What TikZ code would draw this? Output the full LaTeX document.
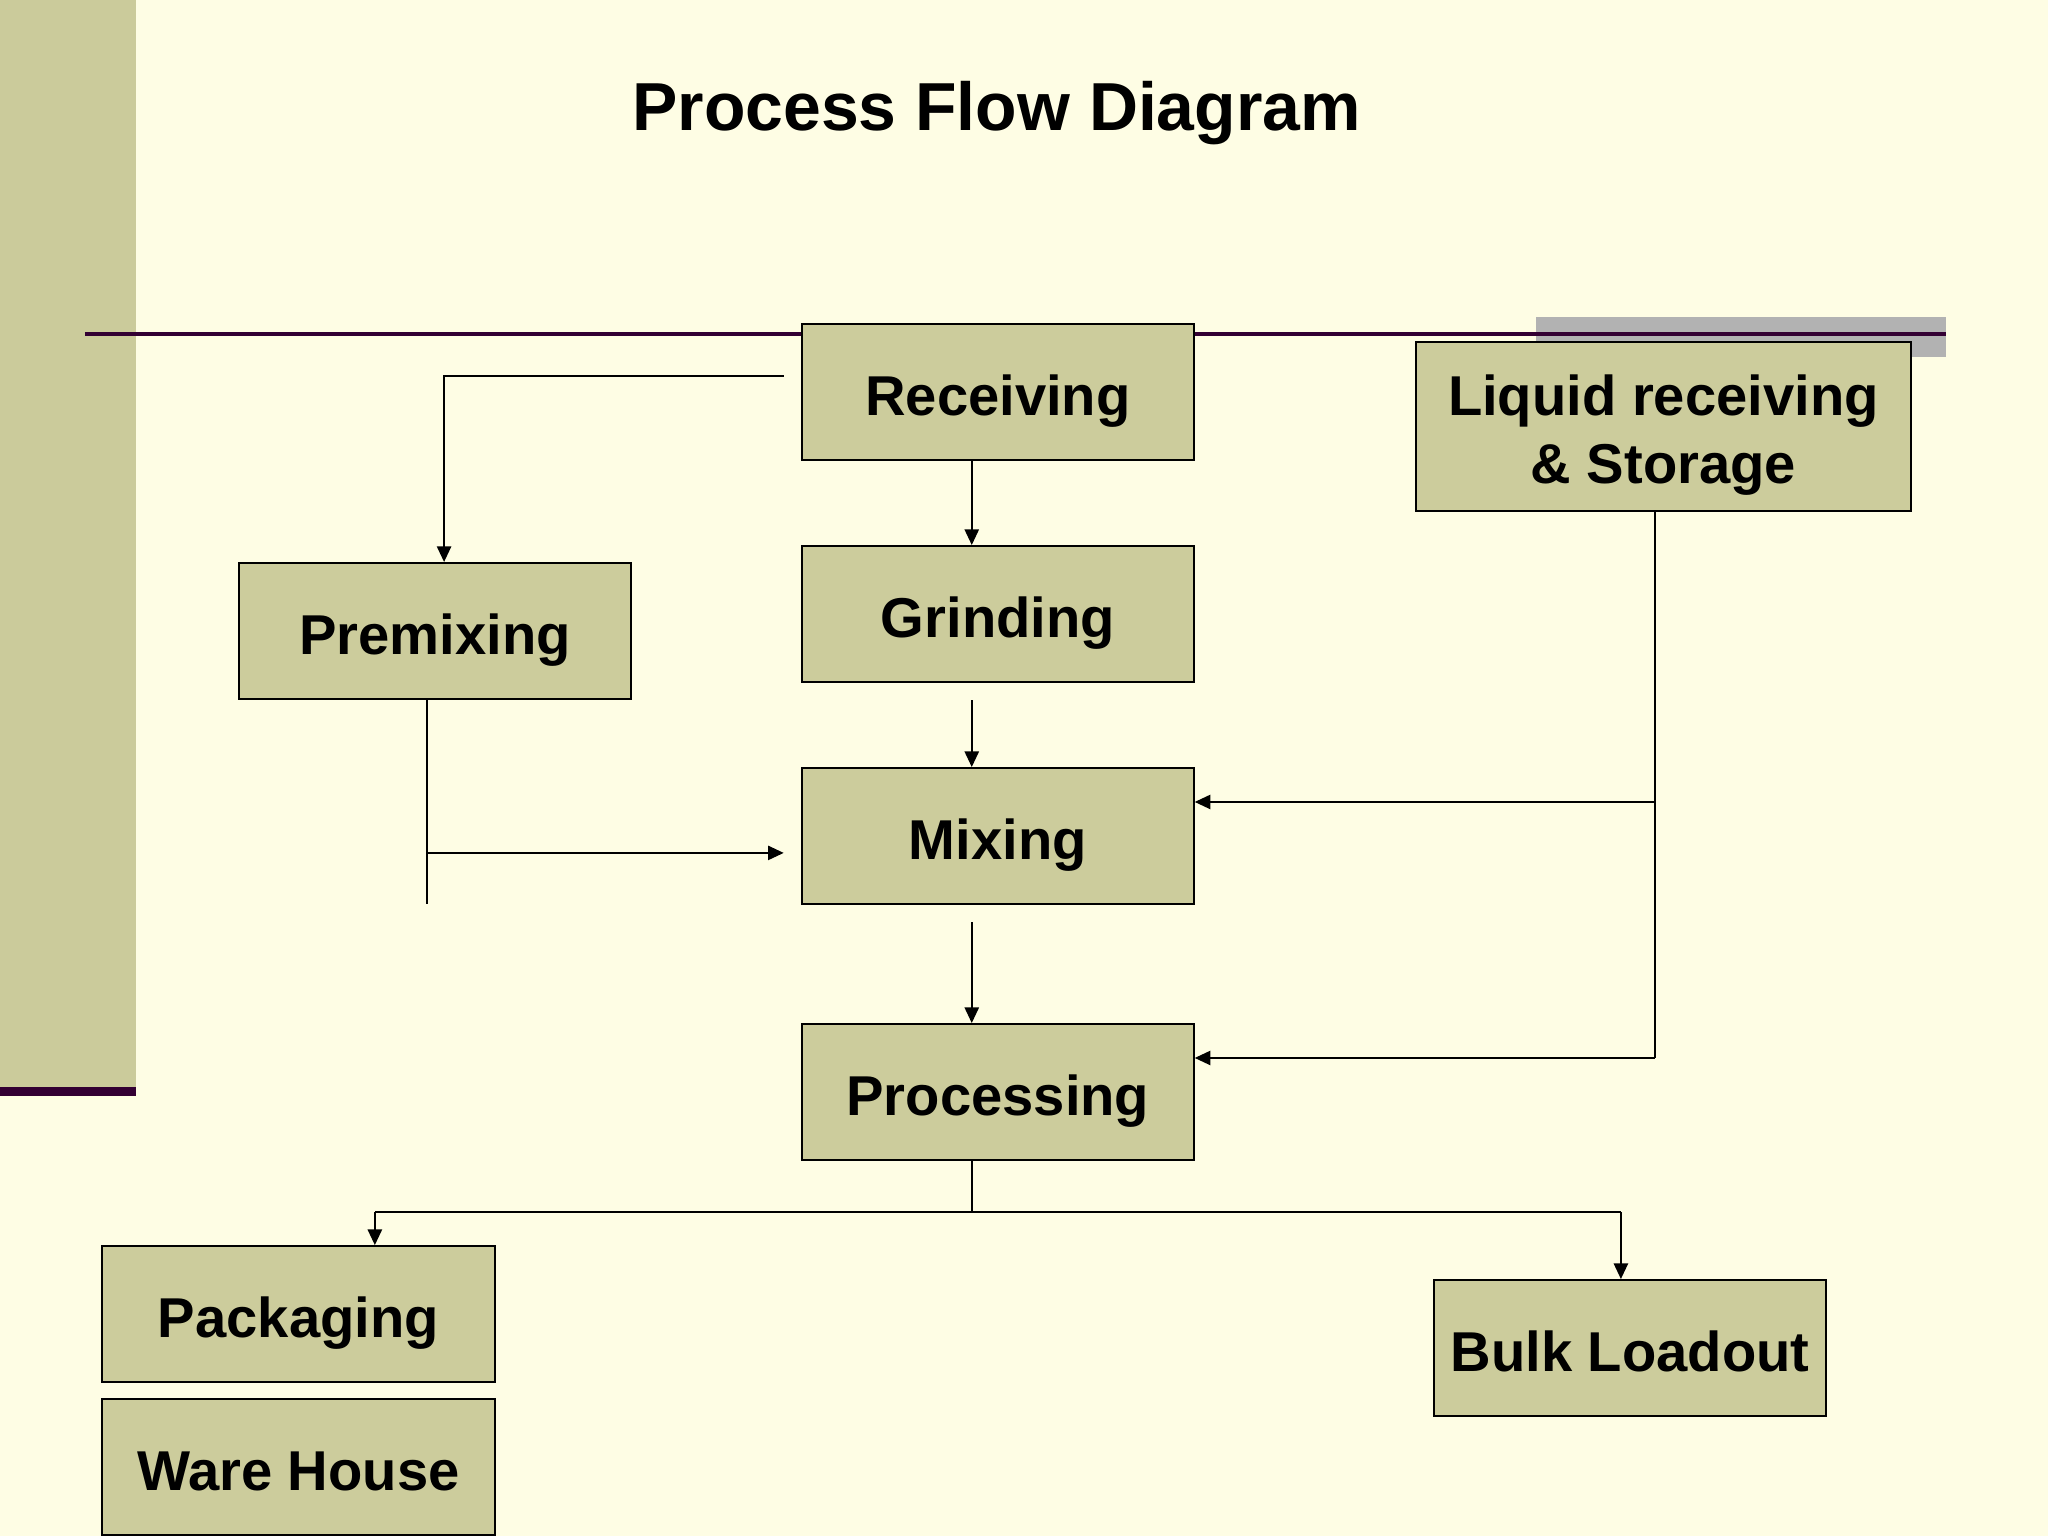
\documentclass[tikz,border=0pt]{standalone}
\usepackage{fontspec}
\setmainfont{Liberation Sans}
\usetikzlibrary{arrows.meta}
\definecolor{bgc}{HTML}{FEFDE4}
\definecolor{boxc}{HTML}{CCCC9C}
\definecolor{barc}{HTML}{CBCB9B}
\definecolor{purp}{HTML}{330033}
\definecolor{grayc}{HTML}{B2B2B2}
\tikzset{
  procbox/.style={draw=black, line width=1.5pt, fill=boxc, minimum width=300pt, minimum height=104pt, inner sep=0pt, align=center, text height=40pt, text depth=4pt, font=\fontsize{43}{52}\selectfont\bfseries},
  boxtext/.style={inner sep=0pt, align=center, font=\fontsize{43}{52}\selectfont\bfseries},
  conn/.style={line width=1.2pt, draw=black},
  arr/.style={conn, -{Triangle[length=12pt,width=11pt]}}
}
\begin{document}
\begin{tikzpicture}[x=1pt,y=-1pt]
\useasboundingbox (0,0) rectangle (1568,1176);
\fill[bgc] (0,0) rectangle (1568,1176);
% left bar
\fill[barc] (0,0) rectangle (104,832);
\fill[purp] (0,832) rectangle (104,839);
% gray block and rule
\fill[grayc] (1176,243) rectangle (1490,273);
\draw[purp, line width=3pt] (65,256) -- (1490,256);
% title
\node[anchor=base, inner sep=0pt, font=\fontsize{52}{60}\selectfont\bfseries] (title) at (763,100) {Process Flow Diagram};
% boxes
\node[procbox] (rec) at (764,300) {Receiving};
\node[procbox] (gri) at (764,470) {Grinding};
\node[procbox] (mix) at (764,640) {Mixing};
\node[procbox] (pro) at (764,836) {Processing};
\node[procbox] (pre) at (333,483) {Premixing};
\node[procbox, minimum width=379pt, minimum height=129pt] (liq) at (1273.5,326.5) {};
\node[boxtext] (liqtext) at (1273.5,333) {Liquid receiving\\\& Storage};
\node[procbox, minimum width=301pt] (pac) at (228.5,1006) {Packaging};
\node[procbox, minimum width=301pt] (war) at (228.5,1123) {Ware House};
\node[procbox] (bul) at (1248,1032) {Bulk Loadout};
% connector points
\coordinate (r1) at (600,288);
\coordinate (r2) at (340,288);
\coordinate (g1) at (744,536);
\coordinate (p1) at (327,692);
\coordinate (p2) at (327,653);
\coordinate (p3) at (600,653);
\coordinate (m1) at (744,706);
\coordinate (l1) at (1267,810);
\coordinate (l2) at (1267,614);
\coordinate (s1) at (744,928);
\coordinate (s2) at (287,928);
\coordinate (s3) at (1241,928);
% connectors
\draw[arr] (r1) -- (r2) -- (r2 |- pre.north);
\draw[arr] (rec.south -| g1) -- (gri.north -| g1);
\draw[arr] (g1) -- (mix.north -| g1);
\draw[conn] (pre.south -| p1) -- (p1);
\draw[arr] (p2) -- (p3);
\draw[arr] (m1) -- (pro.north -| m1);
\draw[conn] (liq.south -| l1) -- (l1);
\draw[arr] (l2) -- (mix.east |- l2);
\draw[arr] (l1) -- (pro.east |- l1);
\draw[conn] (pro.south -| s1) -- (s1);
\draw[arr] (s2) -- (pac.north -| s2);
\draw[conn] (s2) -- (s3);
\draw[arr] (s3) -- (bul.north -| s3);
\end{tikzpicture}
\end{document}
